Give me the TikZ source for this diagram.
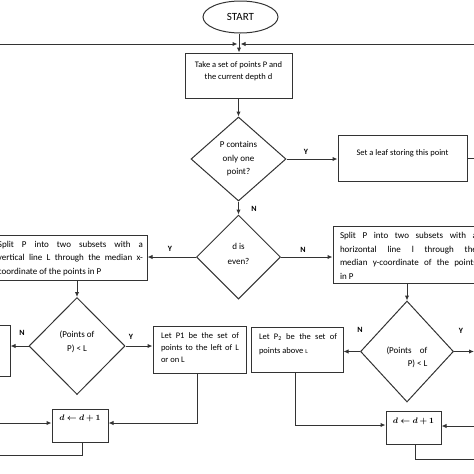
\documentclass[tikz,border=0pt]{standalone}
\usepackage{bm}
\usepackage{fontspec}
\setmainfont{Carlito}
\usetikzlibrary{shapes.geometric,arrows.meta}
\begin{document}
\begin{tikzpicture}[x=1pt,y=-1pt,
  line/.style={draw=black!80, line width=1pt},
  arr/.style={line, -{Latex[length=5pt,width=4.5pt]}},
  box/.style={line, rectangle, inner sep=0pt},
  dia/.style={line, diamond, inner sep=0pt},
  txt/.style={inner sep=0pt, text=black, font=\fontsize{9}{13.5}\selectfont},
  small/.style={inner sep=0pt, text=black, font=\fontsize{8.5}{12.5}\selectfont},
  lab/.style={inner sep=0pt, text=black, font=\fontsize{8}{9}\selectfont\bfseries},
  mth/.style={inner sep=0pt, text=black, font=\fontsize{8.5}{10}\selectfont},
]
\useasboundingbox (0,0) rectangle (474,474);
\clip (0,0) rectangle (474,474);

% ---------- nodes ----------
\node[line, ellipse, minimum width=75pt, minimum height=32pt, inner sep=0pt,
      text=black, font=\fontsize{11}{12}\selectfont] (start) at (240.5,17) {START};
\coordinate (merge) at (239,44);
\coordinate (inL) at (0,44);
\coordinate (inR) at (474,44);

\node[box, minimum width=107pt, minimum height=45pt] (b1) at (238.5,75.5) {};
\node[small, align=center] (t1) at (238.5,71) {Take a set of points P and\\the current depth d};

\node[dia, minimum width=95pt, minimum height=84pt, txt, align=center] (d1) at (238.5,159) {P contains\\only one\\point?};

\node[box, minimum width=129pt, minimum height=46pt] (b2) at (402.5,158) {};
\node[small] (t2) at (402.5,153) {Set a leaf storing this point};
\coordinate (outA) at (474,158);

\node[dia, minimum width=84pt, minimum height=84pt] (d2) at (238.5,257) {};
\node[txt, align=center, font=\fontsize{9}{15}\selectfont] (td2) at (238.5,253.5) {d is\\even?};

\node[box, minimum width=157pt, minimum height=45pt] (b3) at (68.5,257.5) {};
\node[txt, text width=145pt, align=justify] (t3) at (70.5,258.5)
  {Split P into two subsets with a\linebreak vertical line L through the median x-\linebreak coordinate of the points in P};

\node[box, minimum width=157pt, minimum height=57pt] (b6) at (411.5,254.5) {};
\node[txt, text width=137pt, align=justify] (t6) at (408.5,256)
  {Split P into two subsets with a\linebreak horizontal line l through the\linebreak median y-coordinate of the points\linebreak in P};

\node[dia, minimum width=96pt, minimum height=97pt] (d3) at (77,346) {};
\node[txt, align=center] (td3) at (77,342) {(Points of\\P) {<} L};

\node[box, minimum width=60pt, minimum height=51pt] (bl) at (-20,350.5) {};

\node[box, minimum width=93pt, minimum height=47pt] (b4) at (199.5,349.5) {};
\node[small, text width=78pt, align=justify, font=\fontsize{8.5}{11.8}\selectfont] (t4) at (200,347.5)
  {Let P1 be the set of\linebreak points to the left of L\linebreak or on L};

\node[dia, minimum width=93pt, minimum height=101pt] (d4) at (407,351.5) {};
\node[txt, align=center] (td4) at (407,357.5)
  {\makebox[41pt][s]{(Points\ \ of}\\\makebox[41pt][r]{P) {<} L}};

\node[box, minimum width=92pt, minimum height=45pt] (b7) at (297,349.5) {};
\node[small, text width=78pt, align=justify, font=\fontsize{8.5}{14}\selectfont] (t7) at (298,344)
  {Let P\textsubscript{2} be the set of\linebreak points above {\fontsize{6}{7}\selectfont L}};

\node[box, minimum width=56pt, minimum height=33pt] (b5) at (80,425.5) {};
\node[mth] (t5) at (80,418) {$\bm{d \leftarrow d + 1}$};

\node[box, minimum width=55pt, minimum height=33pt] (b8) at (413.5,427.5) {};
\node[mth] (t8) at (413.5,421) {$\bm{d \leftarrow d + 1}$};

\coordinate (outB) at (474,351.5);
\coordinate (c1) at (197,423);
\coordinate (inC) at (0,423);
\coordinate (c2) at (82,455);
\coordinate (outC) at (0,455);
\coordinate (c3) at (295,425);
\coordinate (inD) at (474,426);
\coordinate (c4) at (415,459);
\coordinate (outD) at (474,459);

% ---------- connectors ----------
\draw[arr] (start.south -| merge) -- (b1.north -| merge);
\draw[arr] (inL) -- ([xshift=-1.5pt]merge);
\draw[arr] (inR) -- ([xshift=1.5pt]merge);
\draw[arr] (b1.south) -- (d1.north);
\draw[arr] (d1.east) -- (d1.east -| b2.west);
\draw[line] (b2.east) -- (outA);
\draw[arr] (d1.south) -- (d2.north);
\draw[arr] (d2.west) -- (d2.west -| b3.east);
\draw[arr] (d2.east) -- (d2.east -| b6.west);
\draw[arr] (b3.south -| d3.north) -- (d3.north);
\draw[arr] (b6.south -| d4.north) -- (d4.north);
\draw[arr] (d3.west) -- (d3.west -| bl.east);
\draw[arr] (d3.east) -- (d3.east -| b4.west);
\draw[arr] (d4.west) -- (d4.west -| b7.east);
\draw[arr] (d4.east) -- (outB);
\draw[arr] (c1 |- b4.south) -- (c1) -- (c1 -| b5.east);
\draw[arr] (inC) -- (inC -| b5.west);
\draw[line] (c2 |- b5.south) -- (c2) -- (outC);
\draw[arr] (c3 |- b7.south) -- (c3) -- (c3 -| b8.west);
\draw[arr] (inD) -- (inD -| b8.east);
\draw[line] (c4 |- b8.south) -- (c4) -- (outD);

% ---------- labels ----------
\node[lab] (l1) at (306,152) {Y};
\node[lab] (l2) at (254,209) {N};
\node[lab] (l3) at (170,249) {Y};
\node[lab] (l4) at (303,250) {N};
\node[lab] (l5) at (22,333) {N};
\node[lab] (l6) at (131,337) {Y};
\node[lab] (l7) at (360,330) {N};
\node[lab] (l8) at (461,331) {Y};
\end{tikzpicture}
\end{document}
